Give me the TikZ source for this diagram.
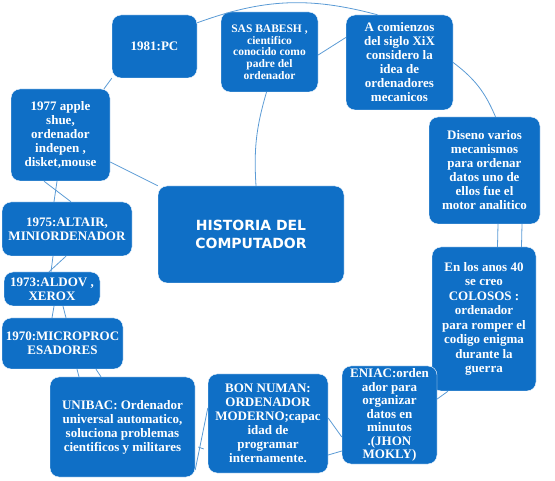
\documentclass[tikz,border=0pt]{standalone}
\usepackage{fontspec}
\setmainfont{Liberation Serif}
\newfontfamily\titlefont{DejaVu Sans}
\definecolor{boxblue}{HTML}{0F6FC6}
\definecolor{linkblue}{HTML}{5B9BD5}

\begin{document}
\begin{tikzpicture}[x=1pt, y=1pt,
    card/.style={draw=white, line width=0.4pt, fill=boxblue, rounded corners=9pt,
        text=white, align=center, inner sep=2pt,
        font=\bfseries\fontsize{13}{14}\selectfont},
    link/.style={linkblue, line width=0.8pt}]

    \useasboundingbox (0,0) rectangle (555,480);

    % Central topic
    \node[card, minimum width=186pt, minimum height=97pt,
        font=\titlefont\bfseries\fontsize{14}{18}\selectfont] (historia) at (251,245.5)
        {HISTORIA DEL\\COMPUTADOR};

    % Boxes round the circle
    \node[card, minimum width=85pt, minimum height=63pt] (pc) at (154.5,433.5) {1981:PC};
    \node[card, minimum width=97pt, minimum height=80pt,
        font=\bfseries\fontsize{11.5}{11.7}\selectfont] (sas) at (269.5,428)
        {SAS BABESH ,\\cientifico\\conocido como\\padre del\\ordenador};
    \node[card, minimum width=107pt, minimum height=95pt] (siglo) at (399.5,417.5)
        {A comienzos\\del siglo XiX\\considero la\\idea de\\ordenadores\\mecanicos};
    \node[card, minimum width=111pt, minimum height=107pt] (diseno) at (484.5,309.5)
        {Diseno varios\\mecanismos\\para ordenar\\datos uno de\\ellos fue el\\motor analitico};
    \node[card, minimum width=104pt, minimum height=144pt,
        font=\bfseries\fontsize{13}{14.5}\selectfont] (colosos) at (484,161)
        {En los anos 40\\se creo\\COLOSOS :\\ordenador\\para romper el\\codigo enigma\\durante la\\guerra};
    \node[card, minimum width=95pt, minimum height=98pt,
        font=\bfseries\fontsize{13}{13.5}\selectfont] (eniac) at (389.5,65)
        {ENIAC:orden\\ador para\\organizar\\datos en\\minutos\\.(JHON\\MOKLY)};
    \node[card, minimum width=120pt, minimum height=99pt] (numan) at (268,56.5)
        {BON NUMAN:\\ORDENADOR\\MODERNO;capac\\idad de\\programar\\internamente.};
    \node[card, minimum width=145pt, minimum height=100pt] (unibac) at (122.5,53)
        {UNIBAC: Ordenador\\universal automatico,\\soluciona problemas\\cientificos y militares};
    \node[card, minimum width=121pt, minimum height=51pt] (micro) at (62.5,136.5)
        {1970:MICROPROC\\ESADORES};
    \node[card, minimum width=96pt, minimum height=34pt] (aldov) at (52,191)
        {1973:ALDOV ,\\XEROX};
    \node[card, minimum width=130pt, minimum height=54pt] (altair) at (67,251)
        {1975:ALTAIR,\\MINIORDENADOR};
    \node[card, minimum width=99pt, minimum height=92pt] (apple) at (60.5,345)
        {1977 apple\\shue,\\ordenador\\indepen ,\\disket,mouse};

    % Connectors along the top and right side
    \draw[link] ([yshift=-8pt]pc.north east) to[out=20,in=165] ([xshift=-22pt]siglo.north);
    \draw[link] ([yshift=-3pt]sas.east) -- ([yshift=25pt]siglo.west);
    \draw[link] ([xshift=-3pt]sas.south) to[bend right=10] ([xshift=5pt]historia.north);
    \draw[link] (siglo.east) to[bend left=15] ([xshift=11pt]diseno.north);
    \foreach \dx in {13.5, 37.5} {
        \draw[link] ([xshift=\dx pt]diseno.south) -- ([xshift=\dx pt]colosos.north);
    }
    \draw[link] ([xshift=-36pt]colosos.south) -- ([yshift=16pt]eniac.east);

    % Connectors along the bottom
    \draw[link] ([yshift=-22pt]eniac.west) -- ([yshift=5.5pt]numan.east);
    \draw[link] ([yshift=-36pt]eniac.west) -- ([yshift=-31.5pt]numan.east);
    \draw[link] ([yshift=15.5pt]numan.west) -- ([yshift=-43pt]unibac.east);
    \draw[link] ([xshift=3pt,yshift=-20pt]unibac.east) -- ([xshift=-4pt,yshift=-25.5pt]numan.west);

    % Connectors up the left side
    \foreach \a/\b in {14.5/-43.5, 33.5/-21.5} {
        \draw[link] ([xshift=\a pt]micro.south) -- ([xshift=\b pt]unibac.north);
    }
    \foreach \a/\b in {2/-10.5, 11/3.5} {
        \draw[link] ([xshift=\a pt]aldov.south) -- ([xshift=\b pt]micro.north);
    }
    \foreach \a/\b in {-14/-1, -1/-3} {
        \draw[link] ([xshift=\a pt]altair.south) -- ([xshift=\b pt]aldov.north);
    }
    \foreach \a/\b in {-3.5/-13, -16.5/4} {
        \draw[link] ([xshift=\a pt]apple.south) -- ([xshift=\b pt]altair.north);
    }
    \draw[link] ([yshift=-27pt]apple.east) -- (historia.north west);
    \draw[link] ([xshift=43.5pt]apple.north) -- (pc.south west);

\end{tikzpicture}
\end{document}
